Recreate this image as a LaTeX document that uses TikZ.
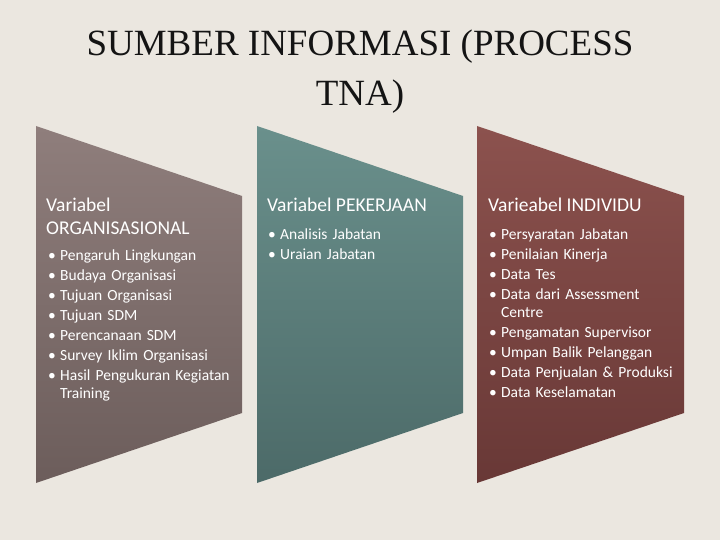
\documentclass[tikz,border=0pt]{standalone}
\usepackage{fontspec}
\setmainfont{Carlito}
\newfontfamily\titlefont{Liberation Serif}
\begin{document}
\begin{tikzpicture}[x=1pt,y=-1pt,
  hdr/.style={anchor=north west,align=left,text=white,font=\fontsize{19.5}{23}\selectfont,inner sep=0pt},
  lst/.style={anchor=north west,text=white,align=left,font=\fontsize{15.5}{18}\selectfont,inner sep=0pt,text width=#1},
  lst/.default=186pt]
\fill[fill={rgb,255:red,235;green,231;blue,224}] (0,0) rectangle (720,540);
\node[font=\titlefont\fontsize{37}{50}\selectfont,align=center,text={rgb,255:red,20;green,20;blue,20}] (title) at (360,72) {SUMBER INFORMASI (PROCESS\\TNA)};
\shade[top color={rgb,255:red,143;green,126;blue,124},bottom color={rgb,255:red,108;green,93;blue,91}] (36,126) -- (242,196) -- (242,413) -- (36,483) -- cycle;
\shade[top color={rgb,255:red,106;green,144;blue,140},bottom color={rgb,255:red,76;green,106;blue,104}] (257,126) -- (463,196) -- (463,413) -- (257,483) -- cycle;
\shade[top color={rgb,255:red,140;green,82;blue,78},bottom color={rgb,255:red,104;green,56;blue,54}] (477,126) -- (684,196) -- (684,413) -- (477,483) -- cycle;
\node[hdr] (h1) at (46,198) {Variabel\\ORGANISASIONAL};
\node[hdr] (h2) at (267,198) {Variabel PEKERJAAN};
\node[hdr] (h3) at (488,198) {Varieabel INDIVIDU};
\newcommand{\bl}[1]{\hyphenpenalty=10000\exhyphenpenalty=10000\hangindent=12pt\hangafter=1\makebox[12pt][l]{\textbullet}#1\par\vspace{2pt}}
\node[lst] (l1) at (48,250) {\bl{Pengaruh Lingkungan}\bl{Budaya Organisasi}\bl{Tujuan Organisasi}\bl{Tujuan SDM}\bl{Perencanaan SDM}\bl{Survey Iklim Organisasi}\bl{Hasil Pengukuran Kegiatan Training}};
\node[lst] (l2) at (268,229) {\bl{Analisis Jabatan}\bl{Uraian Jabatan}};
\node[lst] (l3) at (489,229) {\bl{Persyaratan Jabatan}\bl{Penilaian Kinerja}\bl{Data Tes}\bl{Data dari Assessment Centre}\bl{Pengamatan Supervisor}\bl{Umpan Balik Pelanggan}\bl{Data Penjualan \& Produksi}\bl{Data Keselamatan}};
\end{tikzpicture}
\end{document}
